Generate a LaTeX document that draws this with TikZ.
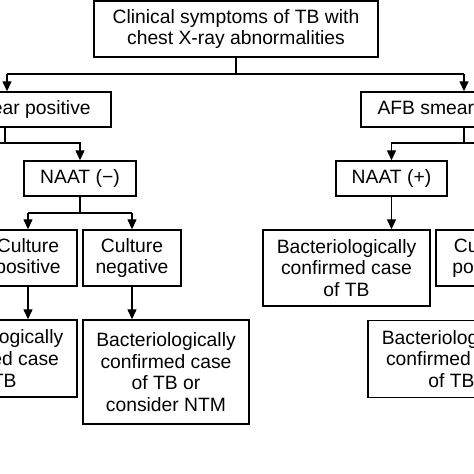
\documentclass[tikz,border=0pt]{standalone}
\usepackage{fontspec}
\setmainfont{Liberation Sans}
\usetikzlibrary{arrows.meta}
\begin{document}
\begin{tikzpicture}[x=1pt,y=-1pt,
  box/.style={draw, line width=1.4pt, align=center, inner sep=0pt,
    font=\fontsize{19.3}{21.8}\selectfont},
  conn/.style={line width=1.3pt},
  arr/.style={conn, -{Triangle[length=10pt,width=9pt]}}]
\useasboundingbox (0,0) rectangle (474,474);
% nodes
\node[box, minimum width=284, minimum height=56] (top) at (236,29)
  {Clinical symptoms of TB with\\chest X-ray abnormalities};
\node[box, minimum width=208, minimum height=35] (smearpos) at (7,109.5)
  {AFB smear positive};
\node[box, minimum width=208, minimum height=35] (smearneg) at (465,109.5)
  {AFB smear negative};
\node[box, minimum width=112, minimum height=35] (naatneg) at (80,178.5)
  {NAAT (−)};
\node[box, minimum width=111, minimum height=35] (naatpos) at (391.5,178.5)
  {NAAT (+)};
\node[box, minimum width=98, minimum height=56] (culposL) at (28,258)
  {Culture\\positive};
\node[box, minimum width=98, minimum height=56] (culnegL) at (132,258)
  {Culture\\negative};
\node[box, minimum width=167, minimum height=76] (bactM) at (346.5,268)
  {Bacteriologically\\confirmed case\\of TB};
\node[box, minimum width=98, minimum height=56] (culposR) at (485,258)
  {Culture\\positive};
\node[box, minimum width=167, minimum height=77] (bactL) at (-6.5,358.5)
  {Bacteriologically\\confirmed case\\of TB};
\node[box, minimum width=166, minimum height=104] (bactNTM) at (166,372)
  {Bacteriologically\\confirmed case\\of TB or\\consider NTM};
\node[box, minimum width=167, minimum height=77] (bactR) at (451.5,359)
  {Bacteriologically\\confirmed case\\of TB};
% junction coordinates
\coordinate (aL) at (7,74);
\coordinate (aR) at (464,74);
\coordinate (bL) at (5,143);
\coordinate (bLL) at (-40,143);
\coordinate (bR) at (464,143);
\coordinate (bRR) at (520,143);
\coordinate (cL) at (80,213);
\coordinate (cL1) at (28,213);
\coordinate (cL2) at (132,213);
% connectors
\draw[conn] (top.south) -- (top.south |- aL);
\draw[conn] (aL) -- (aR);
\draw[arr] (aL) -- (aL |- smearpos.north);
\draw[arr] (aR) -- (aR |- smearneg.north);
\draw[conn] (bL |- smearpos.south) -- (bL);
\draw[conn] (bLL) -- (bL);
\draw[arr] (bL) -| (naatneg.north);
\draw[conn] (bR |- smearneg.south) -- (bR);
\draw[conn] (bR) -- (bRR);
\draw[arr] (bR) -| (naatpos.north);
\draw[conn] (naatneg.south) -- (cL);
\draw[conn] (cL1) -- (cL2);
\draw[arr] (cL1) -- (culposL.north);
\draw[arr] (cL2) -- (culnegL.north);
\draw[arr] (naatpos.south) -- (naatpos.south |- bactM.north);
\draw[arr] (culposL.south) -- (culposL.south |- bactL.north);
\draw[arr] (culnegL.south) -- (culnegL.south |- bactNTM.north);
\end{tikzpicture}
\end{document}
